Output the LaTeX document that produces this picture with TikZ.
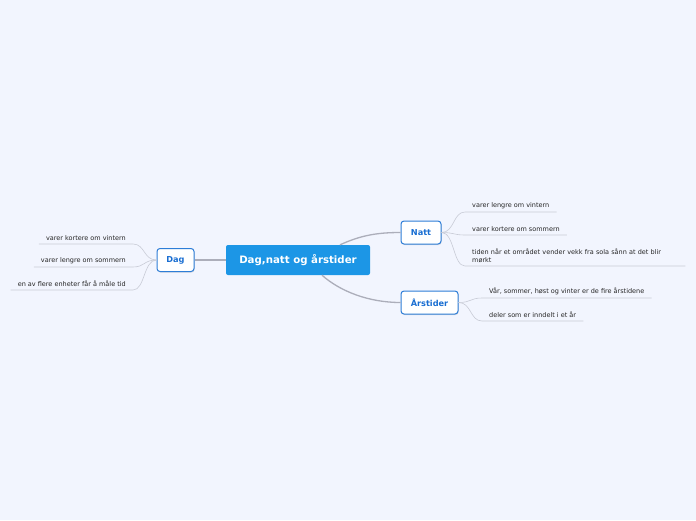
\documentclass[tikz,border=0pt]{standalone}
\usepackage{fontspec}
\setmainfont{DejaVu Sans}
\usepackage{xcolor}
\usepackage{tikz}
\usetikzlibrary{shadows}
\definecolor{mybg}{RGB}{242,245,254}
\definecolor{myblue}{RGB}{28,150,230}
\definecolor{myborder}{RGB}{45,125,215}
\definecolor{mytext}{RGB}{25,110,210}
\definecolor{myline}{RGB}{172,174,186}
\definecolor{myleaf}{RGB}{200,203,214}
\tikzstyle{root} = [rectangle, rounded corners=2pt, fill=myblue, text=white, font=\bfseries\fontsize{10.2}{12}\selectfont, minimum width=144pt, minimum height=30pt]
\tikzstyle{topic} = [rectangle, rounded corners=3pt, draw=myborder, line width=1pt, fill=white, text=mytext, font=\bfseries\fontsize{8.2}{10}\selectfont, minimum height=23pt, drop shadow={shadow xshift=0.6pt, shadow yshift=-1pt, opacity=0.25}]
\tikzstyle{leaf} = [font=\fontsize{6.5}{8.5}\selectfont, text=black!85, inner ysep=3pt, inner xsep=7pt, align=left]
\tikzstyle{branch} = [line width=1.3pt, myline]
\tikzstyle{twig} = [line width=0.6pt, myleaf]

\begin{document}
\begin{tikzpicture}[x=1pt,y=-1pt]
\fill[mybg] (0,0) rectangle (696,520);
\useasboundingbox (0,0) rectangle (696,520);

\node[root] (root) at (298,260) {Dag,natt og årstider};
\node[topic, minimum width=37pt] (dag) at (175.5,260) {Dag};
\node[topic, minimum width=40pt] (natt) at (421,232.5) {Natt};
\node[topic, minimum width=57pt] (arstider) at (429.5,302.5) {Årstider};

% main branches
\draw[branch] (root.west) -- (dag.east);
\draw[branch] ([xshift=42pt]root.north) .. controls +(20,-9) and +(-25,0) .. (natt.west);
\draw[branch] ([xshift=24pt]root.south) .. controls +(18,16) and +(-32,0) .. (arstider.west);

% Dag
\node[leaf, anchor=south east] (dag1) at (133,244) {varer kortere om vintern};
\node[leaf, anchor=south east] (dag2) at (133,267) {varer lengre om sommern};
\node[leaf, anchor=south east] (dag3) at (133,290) {en av flere enheter får å måle tid};
\draw[twig] (dag.west) .. controls +(-13,0) and +(12,0) .. (dag1.south east) -- (dag1.south west);
\draw[twig] (dag.west) .. controls +(-13,0) and +(12,0) .. (dag2.south east) -- (dag2.south west);
\draw[twig] (dag.west) .. controls +(-13,0) and +(12,0) .. (dag3.south east) -- (dag3.south west);

% Natt
\node[leaf, anchor=south west] (natt1) at (465,212) {varer lengre om vintern};
\node[leaf, anchor=south west] (natt2) at (465,235) {varer kortere om sommern};
\node[leaf, anchor=south west, text width=206pt] (natt3) at (465,266) {tiden når et området vender vekk fra sola sånn at det blir\\mørkt};
\draw[twig] (natt.east) .. controls +(13,0) and +(-12,0) .. (natt1.south west) -- (natt1.south east);
\draw[twig] (natt.east) .. controls +(13,0) and +(-12,0) .. (natt2.south west) -- (natt2.south east);
\draw[twig] (natt.east) .. controls +(13,0) and +(-12,0) .. (natt3.south west) -- (natt3.south east);

% Årstider
\node[leaf, anchor=south west] (ars1) at (482,298) {Vår, sommer, høst og vinter er de fire årstidene};
\node[leaf, anchor=south west] (ars2) at (482,321) {deler som er inndelt i et år};
\draw[twig] (arstider.east) .. controls +(13,0) and +(-12,0) .. (ars1.south west) -- (ars1.south east);
\draw[twig] (arstider.east) .. controls +(13,0) and +(-12,0) .. (ars2.south west) -- (ars2.south east);
\end{tikzpicture}
\end{document}
